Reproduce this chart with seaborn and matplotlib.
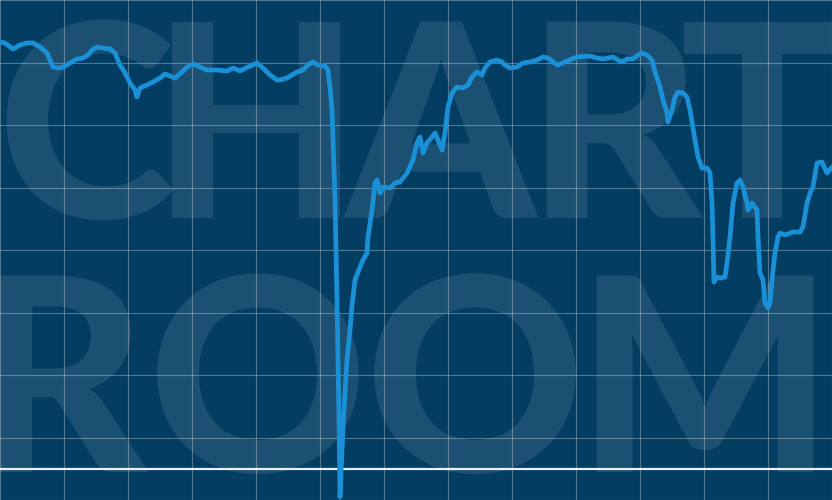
import matplotlib
matplotlib.use("Agg")
import matplotlib.pyplot as plt
from matplotlib.font_manager import FontProperties
from matplotlib.textpath import TextPath
from matplotlib.patches import PathPatch
from matplotlib.transforms import Affine2D
import seaborn as sns
import pandas as pd

# series (x = period index, value = level above baseline)
x_pos = [0, 5, 13, 20, 27, 33, 40, 47, 53, 58, 63, 70, 77, 83, 88, 92, 97, 103, 110, 115,
         120, 125, 130, 135, 137, 140, 147, 153, 160, 165, 170, 175, 182, 187, 193, 200, 207,
         217, 227, 233, 240, 248, 257, 263, 270, 277, 280, 287, 297, 303, 308, 313, 318, 325,
         328, 330, 332, 333, 335, 337, 339, 340, 343, 347, 350, 352, 355, 360, 363, 367, 368,
         372, 375, 377, 380, 383, 390, 395, 400, 407, 413, 417, 420, 423, 427, 432, 435, 438,
         442, 445, 448, 452, 457, 463, 468, 472, 477, 482, 485, 490, 497, 502, 505, 510, 517,
         523, 530, 537, 543, 548, 553, 558, 567, 577, 590, 597, 603, 613, 618, 622, 627, 633,
         638, 642, 647, 652, 655, 660, 663, 667, 668, 672, 675, 678, 683, 687, 690, 695, 698,
         702, 707, 710, 712, 713, 714, 717, 720, 725, 727, 730, 733, 737, 740, 743, 747, 748,
         752, 757, 758, 760, 763, 765, 768, 770, 773, 775, 778, 780, 785, 793, 800, 803, 807,
         810, 813, 817, 822, 827, 832]
y_pix = [42, 43, 49, 45, 43, 43, 47, 53, 67, 68, 67, 63, 59, 58, 55, 50, 47, 48, 49, 53,
         65, 73, 83, 90, 97, 88, 85, 82, 78, 74, 76, 78, 72, 67, 64, 67, 70,
         70, 71, 68, 71, 67, 63, 68, 75, 80, 80, 78, 72, 70, 65, 62, 65, 66,
         70, 87, 110, 140, 200, 300, 420, 497, 427, 360, 330, 305, 280, 267, 260, 253, 237,
         210, 183, 180, 193, 187, 188, 183, 182, 173, 160, 143, 137, 153, 143, 137, 133, 140,
         150, 133, 107, 93, 87, 88, 85, 77, 72, 75, 68, 62, 60, 62, 65, 68, 67,
         63, 62, 60, 57, 58, 62, 65, 61, 57, 56, 58, 59, 57, 60, 62, 59, 59,
         55, 53, 55, 60, 72, 87, 100, 113, 122, 110, 97, 92, 93, 97, 110, 140, 157,
         168, 168, 173, 203, 240, 282, 277, 278, 277, 263, 237, 203, 183, 180, 187, 203, 210,
         203, 210, 237, 273, 280, 303, 308, 303, 270, 253, 237, 233, 235, 232, 232, 227, 203,
         193, 187, 163, 162, 173, 167]
value = [(469 - p) / 10 for p in y_pix]

word1 = "CHART"
word2 = "ROOM"

df = pd.DataFrame({"period": x_pos, "value": value})

bg = "#033d62"
sns.set_style("dark", {"axes.facecolor": bg, "figure.facecolor": bg})
plt.rcParams["font.family"] = ["Lato", "DejaVu Sans"]

fig = plt.figure(figsize=(8.32, 5.0), dpi=100)
ax = fig.add_axes([0, 0, 1, 1])
ax.set_xlim(0, 832)
ax.set_ylim(-3.1, 46.9)

# background lettering: glyph outlines, centred on their ink, placed in pixels
big = FontProperties(family="Lato", weight=900)


def glyph(ch, cx, base):
    tp = TextPath((0, 0), ch, size=195, prop=big)
    ext = tp.get_extents()
    tr = (Affine2D().translate(-(ext.x0 + ext.x1) / 2, 0).scale(1 / 72)
          + Affine2D().translate(cx / 100, (500 - base) / 100) + fig.dpi_scale_trans)
    ax.add_patch(PathPatch(tp, transform=tr, facecolor="white", edgecolor="none",
                           alpha=0.1, zorder=0))


for ch, cx in zip(word1, [90, 256, 441, 625, 762]):
    glyph(ch, cx, 218)
for ch, cx in zip(word2, [70, 258, 475, 705]):
    glyph(ch, cx, 472)

# grid
ax.set_xticks(range(0, 833, 64))
ax.set_yticks([(469 - 62.5 * k) / 10 for k in range(9)])
ax.grid(True, color="white", alpha=0.3, linewidth=0.8)
ax.set_axisbelow(True)
ax.tick_params(length=0, labelbottom=False, labelleft=False)
for s in ax.spines.values():
    s.set_visible(False)

ax.axhline(0, color="#e8f0f6", linewidth=1.6, zorder=2)
sns.lineplot(data=df, x="period", y="value", ax=ax, color="#1a90d6", linewidth=3.4, zorder=3)
ax.set_xlabel("")
ax.set_ylabel("")

fig.savefig("out.png", dpi=100, facecolor=bg)
